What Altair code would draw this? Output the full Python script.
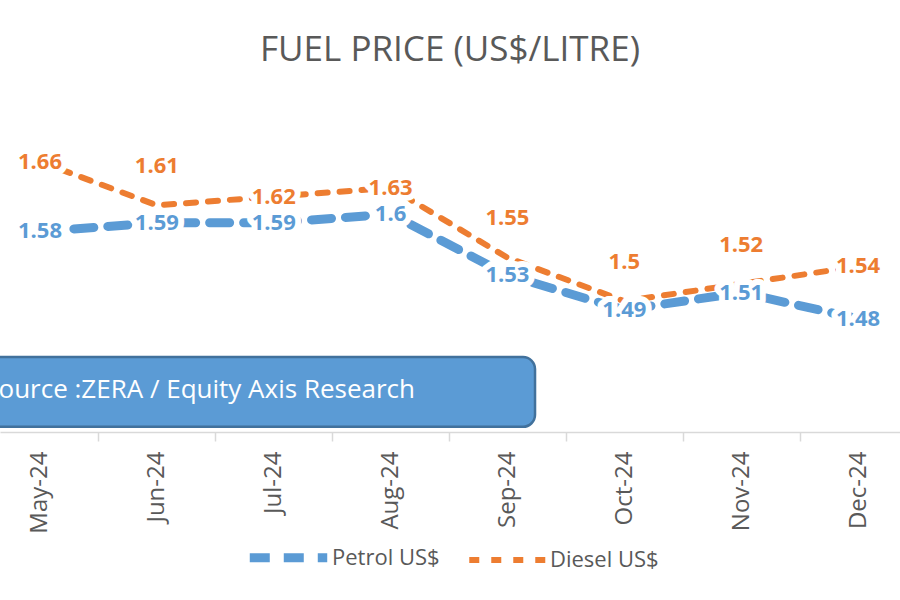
import altair as alt
import pandas as pd

months = ["May-24", "Jun-24", "Jul-24", "Aug-24", "Sep-24", "Oct-24", "Nov-24", "Dec-24"]
petrol = [1.58, 1.59, 1.59, 1.60, 1.53, 1.49, 1.51, 1.48]
diesel = [1.66, 1.61, 1.62, 1.63, 1.55, 1.50, 1.52, 1.54]
series_names = ["Petrol US$", "Diesel US$"]
colors = ["#5B9BD5", "#ED7D31"]
source_note = "Source :ZERA / Equity Axis Research"

rows = []
for i, m in enumerate(months):
    g = diesel[i] - petrol[i]
    rows.append(dict(idx=i, month=m, series=series_names[0], value=petrol[i], gap=g))
    rows.append(dict(idx=i, month=m, series=series_names[1], value=diesel[i], gap=g))
df = pd.DataFrame(rows)

box_df = pd.DataFrame({"x": [-1.0], "x2": [4.236], "y": [1.356], "y2": [1.436],
                       "tx": [3.209], "ty": [1.398], "note": [source_note]})

FONT = "Open Sans"
GRAY = "#595959"
x_dom = [-0.342, 7.359]
W = 900
step = W / (x_dom[1] - x_dom[0])
x_scale = alt.Scale(domain=x_dom, nice=False, zero=False)
y_scale = alt.Scale(domain=[1.35, 1.74], nice=False, zero=False)
label_expr = "[" + ",".join("'%s'" % m for m in months) + "][datum.value]"

x_axis = alt.Axis(values=list(range(len(months))), labelExpr=label_expr,
                  tickOffset=-step / 2, labelOffset=step / 2, labelAngle=-90,
                  labelFont=FONT, labelFontSize=24, labelColor=GRAY, labelPadding=10,
                  labelFlush=False, labelOverlap=False, domainColor="#D9D9D9",
                  domainWidth=1.5, tickColor="#D9D9D9", tickWidth=1.5, tickSize=9,
                  grid=False, title=None)

legend = alt.Legend(title=None, orient="none", legendX=245, legendY=422,
                    direction="horizontal", symbolType="stroke", symbolSize=6000,
                    labelFont=FONT, labelFontSize=22, labelColor=GRAY,
                    columnPadding=17, labelOffset=0)

base = alt.Chart(df)
X = alt.X("idx:Q", scale=x_scale, axis=x_axis)

lines = base.mark_line(strokeCap="round", strokeJoin="round").encode(
    x=X,
    y=alt.Y("value:Q", scale=y_scale, axis=None),
    color=alt.Color("series:N", scale=alt.Scale(domain=series_names, range=colors), legend=legend),
    strokeDash=alt.StrokeDash("series:N", scale=alt.Scale(domain=series_names, range=[[20, 14], [10, 12]]), legend=legend),
    strokeWidth=alt.StrokeWidth("series:N", scale=alt.Scale(domain=series_names, range=[9, 6]), legend=legend),
    order="idx:Q",
)

labels_base = base.transform_calculate(
    label_value="datum.series == 'Diesel US$' && datum.gap < 0.025 ? datum.value + 0.045 : datum.value"
)
halo = labels_base.mark_text(font=FONT, fontSize=22, fontWeight="bold", fill="white",
                             stroke="white", strokeWidth=12, strokeJoin="round").encode(
    x=X, y=alt.Y("label_value:Q", scale=y_scale, axis=None), text="value:Q")
texts = labels_base.mark_text(font=FONT, fontSize=22, fontWeight="bold").encode(
    x=X, y=alt.Y("label_value:Q", scale=y_scale, axis=None), text="value:Q",
    color=alt.Color("series:N", scale=alt.Scale(domain=series_names, range=colors), legend=legend))

box = alt.Chart(box_df).mark_rect(cornerRadius=12, fill="#5B9BD5", stroke="#41719C", strokeWidth=2.5).encode(
    x=alt.X("x:Q", scale=x_scale, axis=x_axis), x2="x2:Q",
    y=alt.Y("y:Q", scale=y_scale, axis=None), y2="y2:Q")
box_text = alt.Chart(box_df).mark_text(font=FONT, fontSize=26, color="white", align="right", baseline="middle").encode(
    x=alt.X("tx:Q", scale=x_scale, axis=x_axis), y=alt.Y("ty:Q", scale=y_scale, axis=None), text="note:N")

chart = alt.layer(lines, halo, texts, box, box_text).properties(
    width=W, height=340,
    autosize=alt.AutoSizeParams(type="none"),
    padding={"left": 0, "right": 0, "top": 92, "bottom": 168},
    title=alt.Title("FUEL PRICE (US$/LITRE)", font=FONT, fontSize=35, fontWeight="normal",
                    color=GRAY, anchor="middle", offset=24),
    background="white",
).configure_view(stroke=None)

chart.save("out.html", embed_options={"renderer": "svg", "actions": False})
